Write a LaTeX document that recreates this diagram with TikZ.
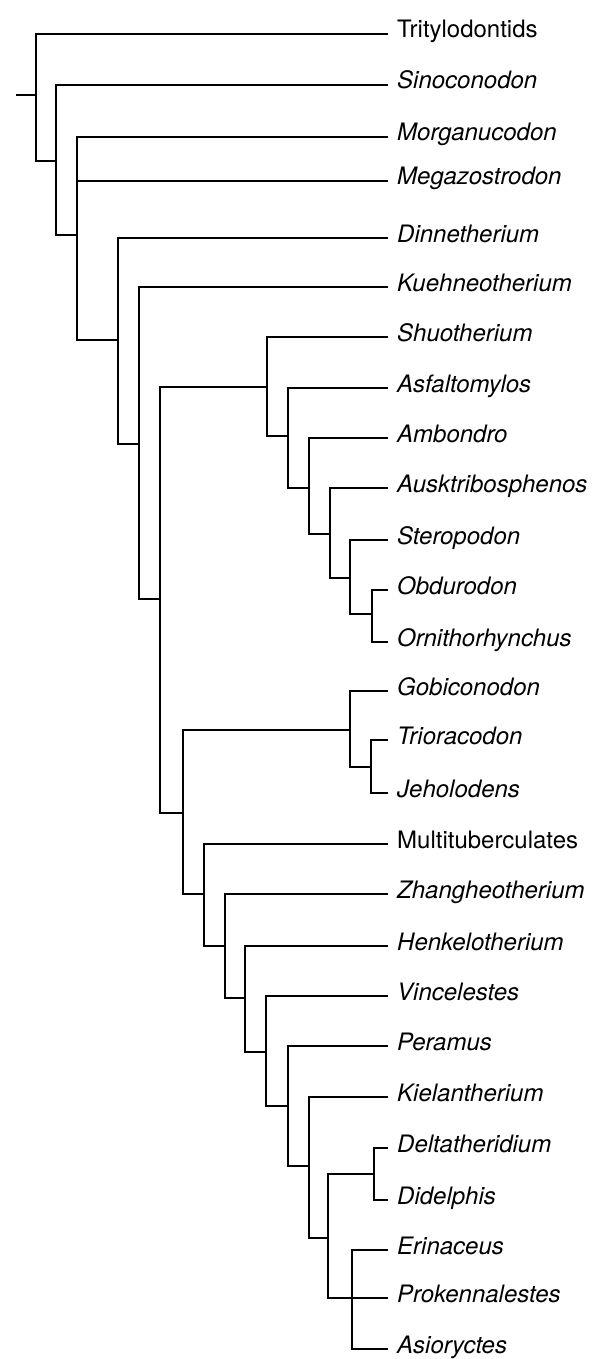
\documentclass[tikz,border=0pt]{standalone}
\usepackage{fontspec}
\setmainfont{TeX Gyre Heros}
\begin{document}
\begin{tikzpicture}[x=1pt,y=-1pt,
  branch/.style={line width=1.6pt, line join=miter, line cap=rect},
  leaf/.style={anchor=west, inner xsep=10pt, inner ysep=0pt, text height=8pt, text depth=0pt, font=\fontsize{24}{28}\selectfont},
  gen/.style={leaf, font=\fontsize{24}{28}\selectfont\itshape}]
\useasboundingbox (0,0) rectangle (600,1359);
% leaves
\node[leaf] (L1) at (387,34) {Tritylodontids};
\node[gen] (L2) at (387,85) {Sinoconodon};
\node[gen] (L3) at (387,137) {Morganucodon};
\node[gen] (L4) at (387,181) {Megazostrodon};
\node[gen] (L5) at (387,238) {Dinnetherium};
\node[gen] (L6) at (387,287) {Kuehneotherium};
\node[gen] (L7) at (387,337) {Shuotherium};
\node[gen] (L8) at (387,388) {Asfaltomylos};
\node[gen] (L9) at (387,438) {Ambondro};
\node[gen] (L10) at (387,488) {Ausktribosphenos};
\node[gen] (L11) at (387,540) {Steropodon};
\node[gen] (L12) at (387,590) {Obdurodon};
\node[gen] (L13) at (387,642) {Ornithorhynchus};
\node[gen] (L14) at (387,691) {Gobiconodon};
\node[gen] (L15) at (387,740) {Trioracodon};
\node[gen] (L16) at (387,793) {Jeholodens};
\node[leaf] (L17) at (387,844) {Multituberculates};
\node[gen] (L18) at (387,894) {Zhangheotherium};
\node[gen] (L19) at (387,946) {Henkelotherium};
\node[gen] (L20) at (387,996) {Vincelestes};
\node[gen] (L21) at (387,1046) {Peramus};
\node[gen] (L22) at (387,1097) {Kielantherium};
\node[gen] (L23) at (387,1148) {Deltatheridium};
\node[gen] (L24) at (387,1200) {Didelphis};
\node[gen] (L25) at (387,1250) {Erinaceus};
\node[gen] (L26) at (387,1298) {Prokennalestes};
\node[gen] (L27) at (387,1349) {Asioryctes};
% internal nodes
\coordinate (stub) at (17,95);
\coordinate (n1) at (36,95);
\coordinate (n2) at (56,161);
\coordinate (n3) at (77,235);
\coordinate (n4) at (118,340);
\coordinate (n5) at (139,444);
\coordinate (n6) at (160,599);
\coordinate (n7) at (267,387);
\coordinate (n8) at (288,436);
\coordinate (n9) at (309,488);
\coordinate (n10) at (330,534);
\coordinate (n11) at (350,578);
\coordinate (n12) at (372,614);
\coordinate (n15) at (183,813);
\coordinate (n13) at (350,730);
\coordinate (n14) at (371,767);
\coordinate (n16) at (204,894);
\coordinate (n17) at (225,946);
\coordinate (n18) at (245,998);
\coordinate (n19) at (266,1052);
\coordinate (n20) at (288,1106);
\coordinate (n21) at (309,1166);
\coordinate (n22) at (328,1238);
\coordinate (n23) at (374,1174);
\coordinate (n24) at (352,1298);
% branches
\begin{scope}[branch]
\draw (stub) -- (n1);
\draw (n1) |- (L1.west);  \draw (n1) |- (n2);
\draw (n2) |- (L2.west);  \draw (n2) |- (n3);
\draw (n3) |- (L3.west);  \draw (n3) |- (L4.west); \draw (n3) |- (n4);
\draw (n4) |- (L5.west);  \draw (n4) |- (n5);
\draw (n5) |- (L6.west);  \draw (n5) |- (n6);
\draw (n6) |- (n7);       \draw (n6) |- (n15);
\draw (n7) |- (L7.west);  \draw (n7) |- (n8);
\draw (n8) |- (L8.west);  \draw (n8) |- (n9);
\draw (n9) |- (L9.west);  \draw (n9) |- (n10);
\draw (n10) |- (L10.west); \draw (n10) |- (n11);
\draw (n11) |- (L11.west); \draw (n11) |- (n12);
\draw (n12) |- (L12.west); \draw (n12) |- (L13.west);
\draw (n15) |- (n13);     \draw (n15) |- (n16);
\draw (n13) |- (L14.west); \draw (n13) |- (n14);
\draw (n14) |- (L15.west); \draw (n14) |- (L16.west);
\draw (n16) |- (L17.west); \draw (n16) |- (n17);
\draw (n17) |- (L18.west); \draw (n17) |- (n18);
\draw (n18) |- (L19.west); \draw (n18) |- (n19);
\draw (n19) |- (L20.west); \draw (n19) |- (n20);
\draw (n20) |- (L21.west); \draw (n20) |- (n21);
\draw (n21) |- (L22.west); \draw (n21) |- (n22);
\draw (n22) |- (n23);     \draw (n22) |- (n24);
\draw (n23) |- (L23.west); \draw (n23) |- (L24.west);
\draw (n24) |- (L25.west); \draw (n24) -- (L26.west); \draw (n24) |- (L27.west);
\end{scope}
\end{tikzpicture}
\end{document}
